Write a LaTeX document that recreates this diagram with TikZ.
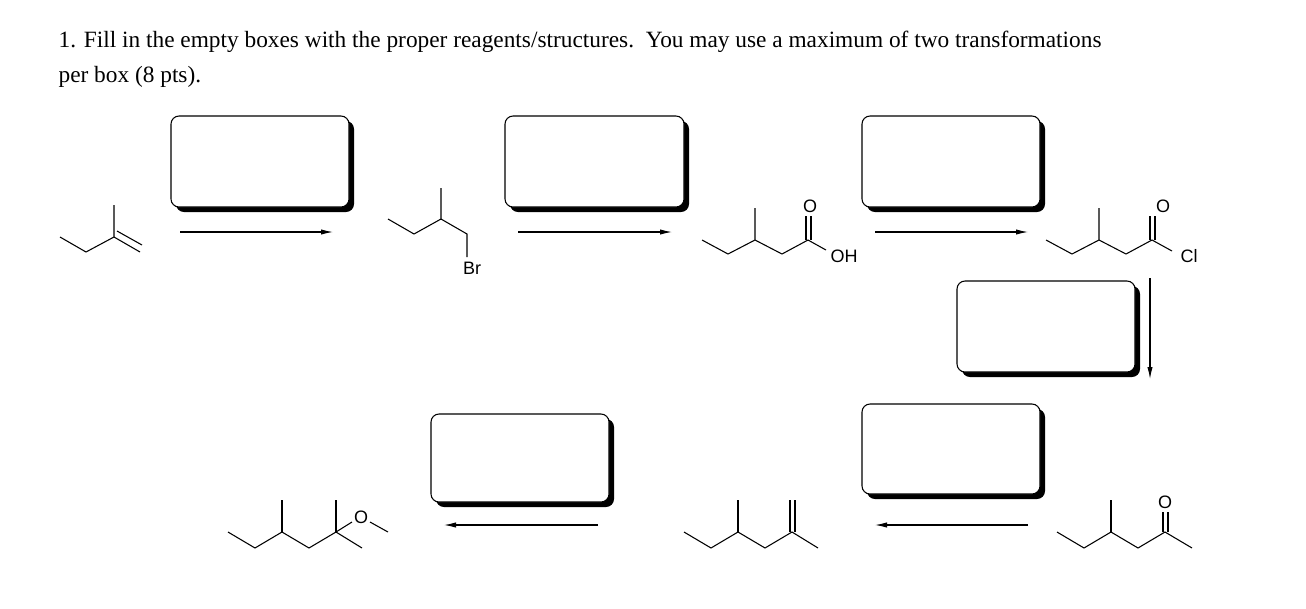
\documentclass[tikz,border=0pt]{standalone}
\usepackage{fontspec}
\usetikzlibrary{arrows.meta}
\setmainfont{Liberation Serif}
\newfontfamily\arial{Liberation Sans}
\begin{document}
\begin{tikzpicture}[x=0.75pt,y=-0.75pt,line width=0.9pt,
  bx/.style={draw,rounded corners=6pt,line width=0.8pt,fill=white},
  arr/.style={-{Latex[length=9pt,width=4pt]},line width=0.8pt},
  atomlbl/.style={font=\arial\fontsize{13.5}{14}\selectfont,inner sep=0pt}]
\useasboundingbox (0,0) rectangle (1306,608);
\node[anchor=base west,inner sep=0,font=\fontsize{17.5}{20}\selectfont] (t1) at (58,47) {1. Fill in the empty boxes with the proper reagents/structures.\ \ You may use a maximum of two transformations};
\node[anchor=base west,inner sep=0,font=\fontsize{17.5}{20}\selectfont] (t2) at (58,82) {per box (8 pts).};
% boxes
\foreach \a/\b/\c/\d in {171/116/349/207, 505/116/684/207, 862/116/1040/207, 957/281/1135/372, 431/414/609/502, 862/404/1040/494}{
  \fill[rounded corners=6pt] (\a+5,\b+5) rectangle (\c+5,\d+5);
  \draw[bx] (\a,\b) rectangle (\c,\d);}
% arrows
\coordinate (a1s) at (180,232); \coordinate (a1e) at (333,232);
\coordinate (a2s) at (518,232); \coordinate (a2e) at (672,232);
\coordinate (a3s) at (875,232); \coordinate (a3e) at (1028,232);
\coordinate (a4s) at (1150,278); \coordinate (a4e) at (1150,379);
\coordinate (a5s) at (598,525); \coordinate (a5e) at (444,525);
\coordinate (a6s) at (1028,525); \coordinate (a6e) at (875,525);
\foreach \s in {1,...,6}{\draw[arr] (a\s s) -- (a\s e);}
\begin{scope}[line width=0.8pt]
% mol1
\draw (60,237)--(86,252)--(114,237)--(114,205);
\draw (114,237)--(140,252); \draw (117,231)--(142,245);
% mol2
\draw (388,219)--(414,234)--(441,219)--(441,188);
\draw (441,219)--(467,234)--(467,257);
\node[atomlbl] (br) at (472,268) {Br};
% mol3
\draw (702,240)--(728,254)--(755,240)--(755,208);
\draw (755,240)--(782,254)--(808,240)--(826,250);
\draw (806,240)--(806,216); \draw (811,240)--(811,216);
\node[atomlbl] (o3) at (810,206) {O};
\node[atomlbl] (oh) at (844,256) {OH};
% mol4
\draw (1046,240)--(1072,254)--(1099,240)--(1099,208);
\draw (1099,240)--(1126,254)--(1152,240)--(1172,251);
\draw (1150,240)--(1150,216); \draw (1155,240)--(1155,216);
\node[atomlbl] (o4) at (1163,206) {O};
\node[atomlbl] (cl) at (1189,256) {Cl};
% ether
\draw (228,532)--(255,548)--(282,532)--(309,548)--(336,532)--(362,548);
\draw (282,532)--(282,500); \draw (336,532)--(336,500);
\draw (336,532)--(352,522);
\node[atomlbl] (oe) at (361,517) {O};
\draw (370,522)--(388,532);
% alkene
\draw (684,532)--(711,548)--(738,532)--(765,548)--(792,532)--(818,548);
\draw (738,532)--(738,500);
\draw (790,532)--(790,500); \draw (795,532)--(795,500);
% ketone
\draw (1057,532)--(1084,548)--(1111,532)--(1138,548)--(1165,532)--(1192,548);
\draw (1111,532)--(1111,500);
\draw (1163,532)--(1163,512); \draw (1168,532)--(1168,512);
\node[atomlbl] (ok) at (1165,502) {O};
\end{scope}
\end{tikzpicture}
\end{document}
